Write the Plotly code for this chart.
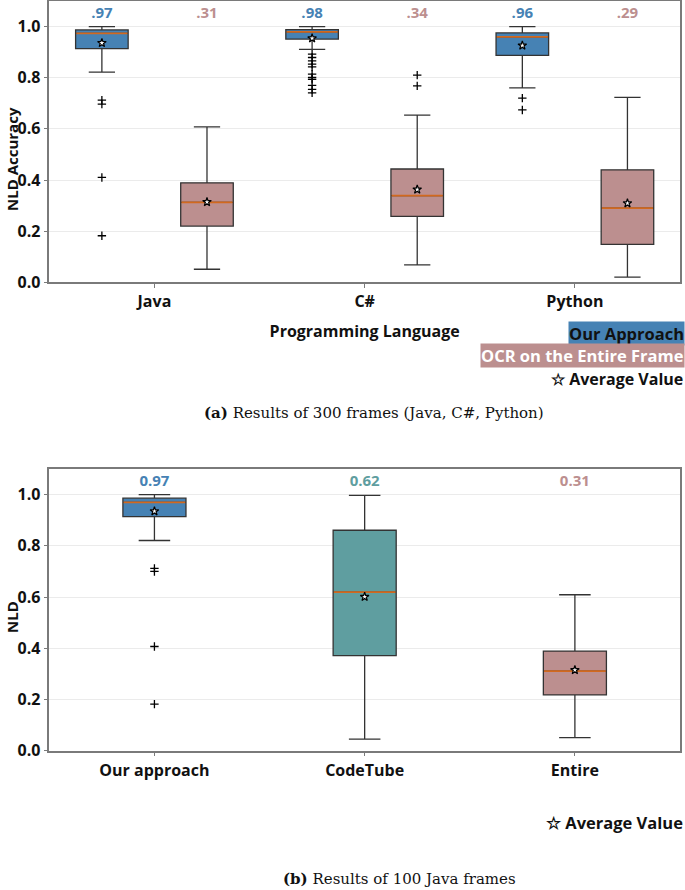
import plotly.graph_objects as go

# ---- (a) 300 frames per language ----
languages = ["Java", "C#", "Python"]

ours_lo = [0.822, 0.911, 0.760]
ours_q1 = [0.914, 0.951, 0.887]
ours_med = [0.973, 0.979, 0.960]
ours_q3 = [0.987, 0.988, 0.975]
ours_hi = [1.0, 1.0, 1.0]
ours_mean = [0.936, 0.954, 0.926]
ours_out = [[0.712, 0.697, 0.41, 0.182],
            [0.892, 0.879, 0.866, 0.853, 0.842, 0.814, 0.801, 0.794, 0.770, 0.754, 0.741],
            [0.72, 0.674]]

ocr_lo = [0.051, 0.068, 0.020]
ocr_q1 = [0.220, 0.258, 0.148]
ocr_med = [0.3125, 0.339, 0.290]
ocr_q3 = [0.389, 0.443, 0.440]
ocr_hi = [0.608, 0.654, 0.723]
ocr_mean = [0.314, 0.363, 0.309]
ocr_out = [[], [0.81, 0.768], []]

# ---- (b) 100 Java frames ----
methods = ["Our approach", "CodeTube", "Entire"]
m_lo = [0.821, 0.0455, 0.051]
m_q1 = [0.914, 0.371, 0.218]
m_med = [0.970, 0.619, 0.311]
m_q3 = [0.986, 0.861, 0.389]
m_hi = [1.0, 0.997, 0.609]
m_mean = [0.935, 0.601, 0.315]
m_out = [[0.712, 0.700, 0.407, 0.182], [], []]

BLUE = "#4682B4"
PINK = "#BC8F8F"
TEAL = "#5F9EA0"
ORANGE = "#d2691e"
FONT = "Open Sans"
CAT_PX = 210.2  # pixel width of one category slot

fig = go.Figure()


def add_group(cats, lo, q1, med, q3, hi, mean, outs, color, name, xa, ya,
              group, width, label_fmt):
    box = dict(x=cats, lowerfence=lo, q1=q1, median=med, q3=q3, upperfence=hi,
               fillcolor=color, line=dict(color="#333333", width=1.3),
               whiskerwidth=0.5, name=name, showlegend=False,
               xaxis=xa, yaxis=ya, offsetgroup=group, alignmentgroup=xa)
    if width:
        box["width"] = width
    fig.add_trace(go.Box(**box))
    common = dict(xaxis=xa, yaxis=ya, offsetgroup=group, alignmentgroup=xa,
                  showlegend=False, hoverinfo="skip")
    # median line (line-ew symbol spans 1.4 * size)
    fig.add_trace(go.Scatter(x=cats, y=med, mode="markers",
                             marker=dict(symbol="line-ew",
                                         size=(width or 0.25) * CAT_PX / 1.4 - 1,
                                         line=dict(color=ORANGE, width=1.8)),
                             **common))
    # outliers
    ox, oy = [], []
    for c, vals in zip(cats, outs):
        ox += [c] * len(vals)
        oy += vals
    fig.add_trace(go.Scatter(x=ox, y=oy, mode="markers",
                             marker=dict(symbol="cross-thin", size=6,
                                         line=dict(color="black", width=1.3)),
                             **common))
    # mean star
    fig.add_trace(go.Scatter(x=cats, y=mean, mode="markers",
                             marker=dict(symbol="star", size=6.5, color="white",
                                         line=dict(color="black", width=1.2)),
                             **common))
    # median label above
    fig.add_trace(go.Scatter(x=cats, y=[1.05] * len(cats), mode="text",
                             text=[label_fmt(m) for m in med],
                             textfont=dict(family=FONT, size=15, color=color, weight="bold"),
                             **common))


short = lambda m: f"{m:.2f}".lstrip("0")
full = lambda m: f"{m:.2f}"

add_group(languages, ours_lo, ours_q1, ours_med, ours_q3, ours_hi, ours_mean, ours_out,
          BLUE, "Our Approach", "x", "y", "ours", None, short)
add_group(languages, ocr_lo, ocr_q1, ocr_med, ocr_q3, ocr_hi, ocr_mean, ocr_out,
          PINK, "OCR on the Entire Frame", "x", "y", "ocr", None, short)

for i, (m, col) in enumerate(zip(methods, [BLUE, TEAL, PINK])):
    add_group([m], [m_lo[i]], [m_q1[i]], [m_med[i]], [m_q3[i]], [m_hi[i]], [m_mean[i]],
              [m_out[i]], col, m, "x2", "y2", "b", 0.3, full)

xtickfont = dict(family=FONT, size=16, color="#111111", weight="bold")
ytickfont = dict(family=FONT, size=16, color="#111111", weight="bold")
axis_common = dict(showline=True, linecolor="#7a7a7a", linewidth=1.5, mirror=True,
                   ticks="outside", ticklen=4, tickcolor="#7a7a7a", automargin=False)
yaxis_common = dict(range=[0, 1.1], dtick=0.2, tickformat=".1f", showgrid=True,
                    gridcolor="#ebebeb", zeroline=False, tickfont=ytickfont,
                    **axis_common)

fig.update_layout(
    template="none",
    width=685, height=890,
    margin=dict(l=0, r=0, t=0, b=0, pad=0),
    paper_bgcolor="white", plot_bgcolor="white",
    boxmode="group", boxgap=0, boxgroupgap=0.5,
    scattermode="group", scattergap=0,
    font=dict(family=FONT, color="#111111"),
    xaxis=dict(domain=[0.072, 0.9927], anchor="y", type="category",
               categoryorder="array", categoryarray=languages, showgrid=False,
               tickfont=xtickfont,
               title=dict(text="<b>Programming Language</b>", standoff=15,
                          font=dict(family=FONT, size=16, color="#111111")),
               **axis_common),
    yaxis=dict(domain=[0.6828, 0.9989], anchor="x", **yaxis_common),
    xaxis2=dict(domain=[0.072, 0.9927], anchor="y2", type="category",
                categoryorder="array", categoryarray=methods, showgrid=False,
                tickfont=xtickfont, **axis_common),
    yaxis2=dict(domain=[0.1565, 0.473], anchor="x2", **yaxis_common),
)

title_font = dict(family=FONT, size=15, color="#111111")
fig.add_annotation(x=0, y=1 - 159 / 890, xref="paper", yref="paper", xanchor="left",
                   yanchor="middle", textangle=-90, showarrow=False,
                   text="<b>NLD Accuracy</b>", font=title_font)
fig.add_annotation(x=0, y=1 - 617 / 890, xref="paper", yref="paper", xanchor="left",
                   yanchor="middle", textangle=-90, showarrow=False,
                   text="<b>NLD</b>", font=title_font)

legend_font = dict(family=FONT, size=16.5, color="#111111")
fig.add_annotation(x=1, y=1 - 333 / 890, xref="paper", yref="paper", xanchor="right",
                   yanchor="middle", showarrow=False, text="<b>Our Approach</b>",
                   bgcolor=BLUE, borderpad=0, font=legend_font)
fig.add_annotation(x=1, y=1 - 355.5 / 890, xref="paper", yref="paper", xanchor="right",
                   yanchor="middle", showarrow=False, text="<b>OCR on the Entire Frame</b>",
                   bgcolor=PINK, borderpad=0,
                   font=dict(family=FONT, size=16.5, color="white"))
fig.add_annotation(x=1, y=1 - 379 / 890, xref="paper", yref="paper", xanchor="right",
                   yanchor="middle", showarrow=False, text="<b>☆ Average Value</b>",
                   font=dict(family=FONT, size=16, color="#111111"))
fig.add_annotation(x=1, y=1 - 822 / 890, xref="paper", yref="paper", xanchor="right",
                   yanchor="middle", showarrow=False, text="<b>☆ Average Value</b>",
                   font=legend_font)

cap_font = dict(family="DejaVu Serif", size=15, color="#111111")
fig.add_annotation(x=374 / 685, y=1 - 413 / 890, xref="paper", yref="paper",
                   yanchor="middle", showarrow=False,
                   text="<b>(a)</b> Results of 300 frames (Java, C#, Python)",
                   font=cap_font)
fig.add_annotation(x=400 / 685, y=0, xref="paper", yref="paper", yanchor="bottom",
                   showarrow=False, text="<b>(b)</b> Results of 100 Java frames",
                   font=cap_font)

fig.write_html("out.html", config={"displayModeBar": False},
               post_script="document.body.style.margin='0';")
